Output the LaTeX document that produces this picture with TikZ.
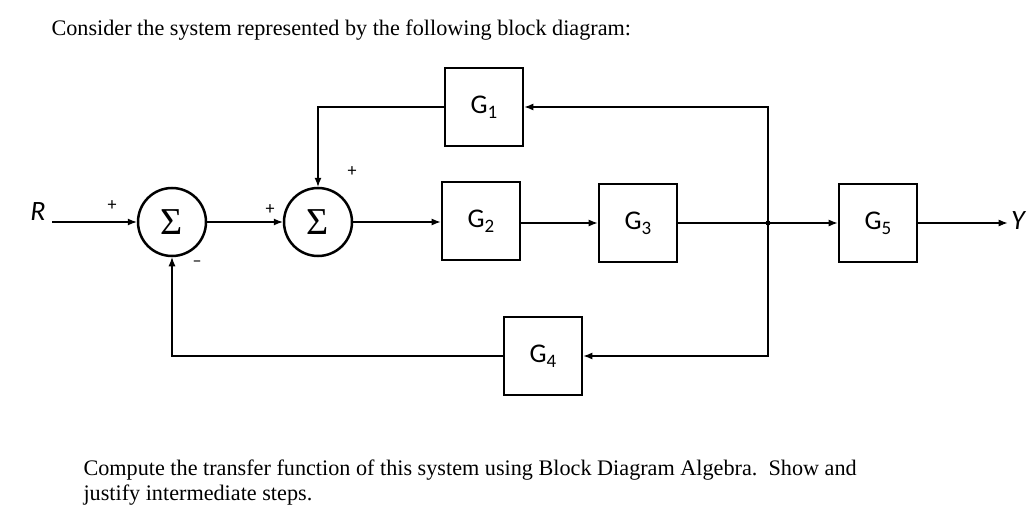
\documentclass[tikz,border=0pt]{standalone}
\usepackage{fontspec}
\setmainfont{Liberation Serif}
\newfontfamily\calfnt{Carlito}
\usetikzlibrary{arrows.meta}
\newcommand{\gsub}[1]{G\raisebox{-5pt}{\fontsize{19}{19}\selectfont #1}}
\begin{document}
\begin{tikzpicture}[x=1pt,y=-1pt,
 blk/.style={draw,line width=2.8pt,minimum width=78pt,minimum height=78pt,font=\calfnt\fontsize{27}{27}\selectfont},
 sum/.style={draw,circle,line width=2.5pt,minimum size=68pt,inner sep=0pt,font=\fontsize{38}{38}\selectfont},
 ar/.style={-{Latex[length=9pt,width=7pt]},line width=1.1pt},
 ln/.style={line width=1.1pt},
 sg/.style={font=\calfnt\fontsize{18}{18}\selectfont}]
\useasboundingbox (0,0) rectangle (1028,519);
\node[anchor=west,font=\fontsize{22.2}{24}\selectfont] (t1) at (48,30) {Consider the system represented by the following block diagram:};
\node[anchor=north west,align=left,font=\fontsize{22.2}{25}\selectfont] (t2) at (80,456) {Compute the transfer function of this system using Block Diagram Algebra.\ \ Show and\\justify intermediate steps.};
\node[font=\calfnt\itshape\fontsize{28}{28}\selectfont] (R) at (38,212) {R};
\node[font=\calfnt\itshape\fontsize{28}{28}\selectfont] (Y) at (1018,221) {Y};
\coordinate (Rs) at (52,222);
\node[sum] (s1) at (172,222) {Σ};
\node[sum] (s2) at (318,222) {Σ};
\node[blk] (g1) at (484,107) {\gsub{1}};
\node[blk] (g2) at (481,221) {\gsub{2}};
\node[blk] (g3) at (638,223) {\gsub{3}};
\node[blk] (g5) at (878,223) {\gsub{5}};
\node[blk] (g4) at (543,356) {\gsub{4}};
\coordinate (b) at (768,223);
\fill (b) circle (2.5pt);
\node[sg] (p1) at (112,206) {+};
\node[sg] (m1) at (197,264) {–};
\node[sg] (p2) at (270,210) {+};
\node[sg] (p3) at (352,172) {+};
\draw[ar] (Rs) -- (s1);
\draw[ar] (s1) -- (s2);
\draw[ar] (s2) -- (g2.west|-s2);
\draw[ar] (g2.east|-g3) -- (g3);
\draw[ln] (g3) -- (b);
\draw[ar] (b) -- (g5);
\draw[ar] (g5) -- (Y.west|-g5);
\draw[ar] (b) |- (g1.east);
\draw[ar] (g1.west) -| (s2.north);
\draw[ar] (b) |- (g4.east);
\draw[ar] (g4.west) -| (s1.south);
\end{tikzpicture}
\end{document}
